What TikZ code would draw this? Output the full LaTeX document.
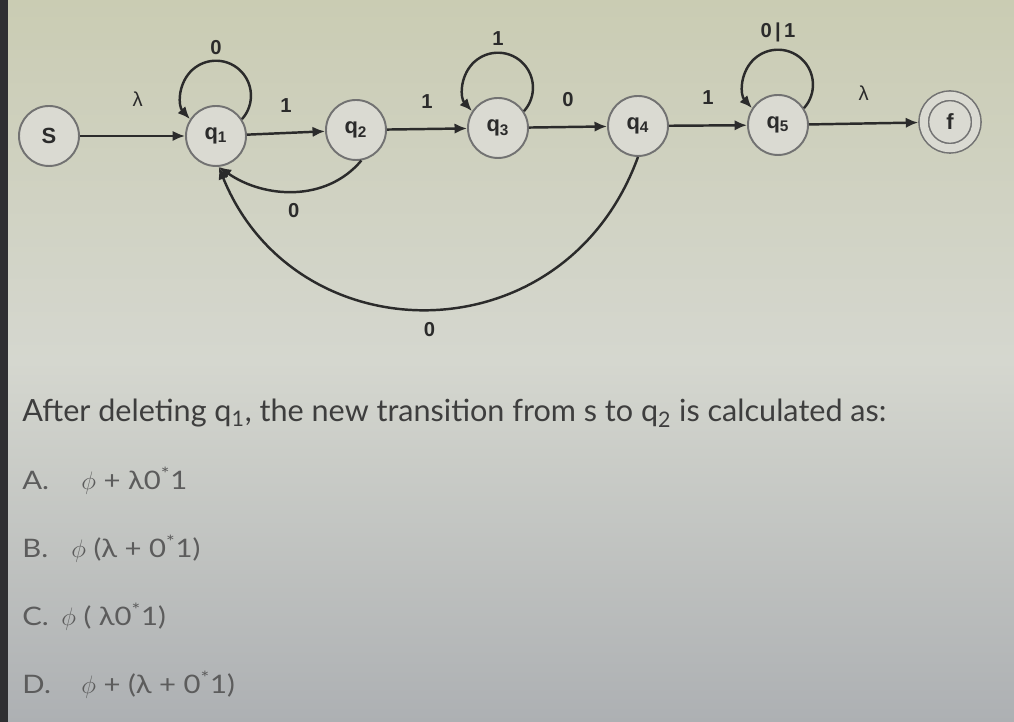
\documentclass[tikz,border=0pt]{standalone}
\usepackage{fontspec}
\setmainfont{Lato}
\newfontfamily\diagfont{Liberation Sans}
\newfontfamily\optfont[FakeStretch=1.15]{Lato}
\usepackage{tikz}
\usetikzlibrary{arrows.meta,positioning}
\definecolor{screentop}{HTML}{CACCB3}
\definecolor{screenmid}{HTML}{D5D7CF}
\definecolor{screenbot}{HTML}{ADB0B3}
\definecolor{bezel}{HTML}{2F2F32}
\definecolor{statefill}{HTML}{DADAD2}
\definecolor{stateline}{HTML}{727272}
\definecolor{edgeline}{HTML}{2B2B2B}
\definecolor{asktext}{HTML}{3E3E3E}
\definecolor{opttext}{HTML}{5C5C5C}

\begin{document}
\begin{tikzpicture}[font=\diagfont\bfseries,
    state/.style={circle, draw=stateline, fill=statefill, line width=1.1pt, minimum size=1.2cm, inner sep=0pt, text=edgeline, font=\diagfont\bfseries\fontsize{12.5}{14}\selectfont},
    final/.style={state, double=statefill, double distance=1.6mm, line width=0.9pt, minimum size=1.05cm, outer sep=1.1mm},
    trans/.style={-{Latex[length=2.5mm,width=2.1mm]}, line width=1.4pt, draw=edgeline},
    lbl/.style={text=edgeline, font=\diagfont\bfseries\fontsize{11.5}{13}\selectfont},
    ask/.style={text=asktext, inner sep=0pt, anchor=base west, font=\fontsize{17.4}{21}\selectfont},
    opt/.style={text=opttext, inner sep=0pt, anchor=base west, font=\optfont\fontsize{14.5}{17}\selectfont}]

    \useasboundingbox (0,0) rectangle (20.28,14.44);
    \shade[top color=screentop, bottom color=screenbot, middle color=screenmid] (0,0) rectangle (20.28,14.44);
    \fill[bezel] (0,0) rectangle (0.16,14.44);

    \node[state] (s) at (0.98,11.72) {S};
    \node[state] (q1) at (4.32,11.72) {q\textsubscript{1}};
    \node[state] (q2) at (7.12,11.84) {q\textsubscript{2}};
    \node[state] (q3) at (9.96,11.88) {q\textsubscript{3}};
    \node[state] (q4) at (12.76,11.92) {q\textsubscript{4}};
    \node[state] (q5) at (15.56,11.94) {q\textsubscript{5}};
    \node[final] (f) at (19.00,12.00) {f};

    \draw[trans] (s) -- node[lbl, above=0.45cm, pos=0.55] {\mdseries λ} (q1);
    \draw[trans] (q1) -- node[lbl, above=0.27cm] {1} (q2);
    \draw[trans] (q2) -- node[lbl, above=0.27cm] {1} (q3);
    \draw[trans] (q3) -- node[lbl, above=0.27cm] {0} (q4);
    \draw[trans] (q4) -- node[lbl, above=0.27cm] {1} (q5);
    \draw[trans] (q5) -- node[lbl, above=0.32cm] {\mdseries λ} (f);

    \draw[trans] (q1.33) arc[start angle=-42, end angle=222, radius=0.7cm];
    \draw[trans] (q3.33) arc[start angle=-42, end angle=222, radius=0.7cm];
    \draw[trans] (q5.33) arc[start angle=-42, end angle=222, radius=0.7cm];
    \node[lbl, above=0.88cm of q1] (loop1) {0};
    \node[lbl, above=0.9cm of q3] (loop3) {1};
    \node[lbl, above=0.92cm of q5] (loop5) {0\,|\,1};

    \draw[trans] (q2.-80) to[out=-130, in=-35, distance=1.1cm] node[lbl, below=0.1cm] {0} (q1.-85);
    \draw[trans] (q4.-90) to[out=-110, in=-68, out distance=4.3cm, in distance=4.1cm] node[lbl, below=0.12cm] {0} (q1.-85);

    \node[ask] (question) at (0.44,6.0) {After deleting q\textsubscript{1}, the new transition from s to q\textsubscript{2} is calculated as:};

    \node[opt] (optA) at (0.44,4.64) {A.};
    \node[opt] (exprA) at (1.62,4.64) {$\phi$ + λ0\textsuperscript{*}1};
    \node[opt] (optB) at (0.44,3.28) {B.};
    \node[opt] (exprB) at (1.42,3.28) {$\phi$ (λ + 0\textsuperscript{*}1)};
    \node[opt] (optC) at (0.44,1.92) {C.};
    \node[opt] (exprC) at (1.22,1.92) {$\phi$ ( λ0\textsuperscript{*}1)};
    \node[opt] (optD) at (0.44,0.56) {D.};
    \node[opt] (exprD) at (1.62,0.56) {$\phi$ + (λ + 0\textsuperscript{*}1)};

\end{tikzpicture}
\end{document}
